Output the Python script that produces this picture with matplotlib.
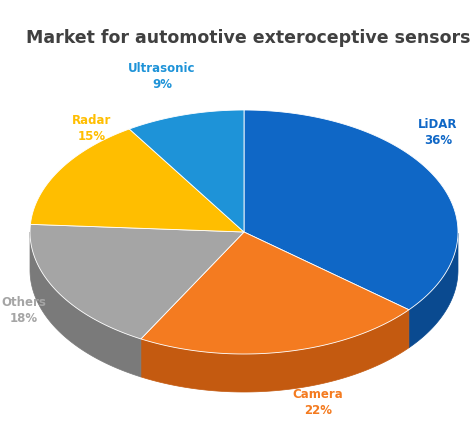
import numpy as np
import matplotlib.pyplot as plt
from matplotlib.patches import Polygon

labels = ['LiDAR', 'Camera', 'Others', 'Radar', 'Ultrasonic']
shares = [36, 22, 18, 15, 9]
colors = ['#0F67C6', '#F47B20', '#A5A5A5', '#FFBE00', '#1E93D8']
sides = ['#0A4A90', '#C45A10', '#7A7A7A', '#C99500', '#156FA8']
label_pos = [(438, 133), (318, 402), (24, 310), (92, 128), (162, 77)]

cx, cy, rx, ry, depth = 244, 232, 214, 122, 38

fig = plt.figure(figsize=(4.74, 4.24), dpi=100)
ax = fig.add_axes([0, 0, 1, 1])
ax.set_xlim(0, 474)
ax.set_ylim(424, 0)
ax.axis('off')


def rim(t):
    return cx + rx * np.cos(t), cy - ry * np.sin(t)


# angles: start at top, go clockwise
bounds = np.radians(90 - np.cumsum([0] + shares) * 3.6)

# sides (front half only)
for i in range(len(shares)):
    t = np.linspace(bounds[i + 1], bounds[i], 200)
    t = t[np.sin(t) <= 0.001]
    if len(t) < 2:
        continue
    x, y = rim(t)
    pts = np.vstack([np.column_stack([x, y]),
                     np.column_stack([x[::-1], y[::-1] + depth])])
    ax.add_patch(Polygon(pts, closed=True, facecolor=sides[i], edgecolor=sides[i], lw=0.5))

# top wedges
for i in range(len(shares)):
    t = np.linspace(bounds[i + 1], bounds[i], 200)
    x, y = rim(t)
    pts = np.vstack([[cx, cy], np.column_stack([x, y])])
    ax.add_patch(Polygon(pts, closed=True, facecolor=colors[i], edgecolor='white', lw=0.6))

for lab, s, c, (x, y) in zip(labels, shares, colors, label_pos):
    ax.text(x, y, f'{lab}\n{s}%', color=c, fontsize=8.5, fontweight='bold',
            ha='center', va='center', linespacing=1.3)

ax.text(248, 38, 'Market for automotive exteroceptive sensors', fontsize=12.5,
        fontweight='bold', color='#404040', ha='center', va='center')

fig.savefig('out.png', dpi=100)
